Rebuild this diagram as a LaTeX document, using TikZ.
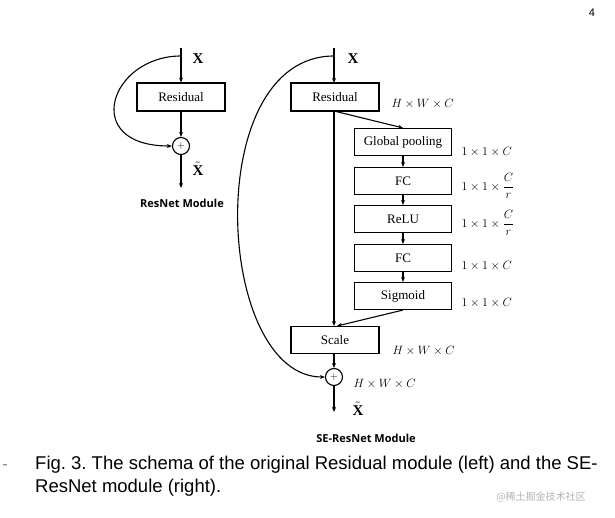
\documentclass[tikz,border=0pt]{standalone}
\usepackage{fontspec}
\setmainfont{Liberation Serif}
\newfontfamily\capf{Liberation Sans}
\newfontfamily\modf{Open Sans}
\newfontfamily\cjk{Noto Sans CJK SC}
\usetikzlibrary{arrows.meta}
\begin{document}
\begin{tikzpicture}[x=1pt,y=-1pt,
  box/.style={draw,line width=1.1pt,minimum width=88pt,minimum height=28pt,inner sep=0pt,font=\fontsize{13}{13}\selectfont},
  sbox/.style={box,minimum width=97pt,minimum height=27pt},
  add/.style={draw,circle,line width=1.1pt,minimum size=17pt,inner sep=0pt},
  ar/.style={-{Stealth[length=5pt,width=4pt]},line width=1.1pt},
  dim/.style={font=\fontsize{12}{12}\selectfont,anchor=west},
  mod/.style={font=\modf\bfseries\fontsize{11}{11}\selectfont}]
\useasboundingbox (0,0) rectangle (615,518);
% left
\coordinate (lin) at (181,48);
\node[box] (lres) at (181,97) {Residual};
\node[add] (ladd) at (181,146) {$+$};
\coordinate (lout) at (181,188);
\draw[ar] (lin) -- (lres);
\draw[ar] (lres) -- (ladd);
\draw[ar] (ladd) -- (lout);
\coordinate (lsplit) at (181,56);
\draw[ar] (lsplit) .. controls (110,56) and (80,146) .. (ladd.west);
\node[font=\bfseries\fontsize{15}{15}\selectfont] (lx) at (198,59) {X};
\node[font=\fontsize{15}{15}\selectfont] (lxt) at (198,169) {$\tilde{\mathbf{X}}$};
\node[mod] (lm) at (182,203) {ResNet Module};
% right
\coordinate (rin) at (334,48);
\node[box] (rres) at (335,97) {Residual};
\node[sbox] (gp) at (403,142) {Global pooling};
\node[sbox] (fc1) at (403,181) {FC};
\node[sbox] (relu) at (403,219) {ReLU};
\node[sbox] (fc2) at (403,258) {FC};
\node[sbox] (sig) at (403,296) {Sigmoid};
\node[box,minimum height=27pt] (scale) at (335,340) {Scale};
\node[add] (radd) at (334,377) {$+$};
\coordinate (rout) at (334,412);
\draw[ar] (rin) -- (334,83);
\draw[ar] (334,111) -- (334,326);
\draw[ar] (334,111) -- (gp.north);
\draw[ar] (gp) -- (fc1);
\draw[ar] (fc1) -- (relu);
\draw[ar] (relu) -- (fc2);
\draw[ar] (fc2) -- (sig);
\draw[ar] (sig.south) -- (337,326);
\draw[ar] (334,353) -- (radd);
\draw[ar] (radd) -- (rout);
\coordinate (rsplit) at (334,56);
\draw[ar] (rsplit) .. controls (200,56) and (215,377) .. (radd.west);
\node[font=\bfseries\fontsize{15}{15}\selectfont] (rx) at (353,59) {X};
\node[font=\fontsize{15}{15}\selectfont] (rxt) at (358,409) {$\tilde{\mathbf{X}}$};
\node[mod] (rm) at (366,438) {SE-ResNet Module};
\node[dim] (d0) at (388,104) {$H\times W\times C$};
\node[dim] (d1) at (458,152) {$1\times1\times C$};
\node[dim] (d2) at (458,186) {$1\times1\times \displaystyle\frac{C}{r}$};
\node[dim] (d3) at (458,223) {$1\times1\times \displaystyle\frac{C}{r}$};
\node[dim] (d4) at (458,266) {$1\times1\times C$};
\node[dim] (d5) at (458,303) {$1\times1\times C$};
\node[dim] (d6) at (389,351) {$H\times W\times C$};
\node[dim] (d7) at (350,384) {$H\times W\times C$};
% caption
\node[font=\capf\fontsize{11}{11}\selectfont] (pg) at (592,13) {4};
\node[font=\capf\fontsize{16}{16}\selectfont,text=gray] (dash) at (5,467) {-};
\node[font=\capf\fontsize{18.5}{23}\selectfont,anchor=north west,align=left,inner sep=0pt] (cap) at (35,456) {\frenchspacing Fig. 3. The schema of the original Residual module (left) and the SE-\\ResNet module (right).};
\node[font=\cjk\fontsize{10}{10}\selectfont,text=gray!60] (wm) at (541,497) {@稀土掘金技术社区};
\end{tikzpicture}
\end{document}
